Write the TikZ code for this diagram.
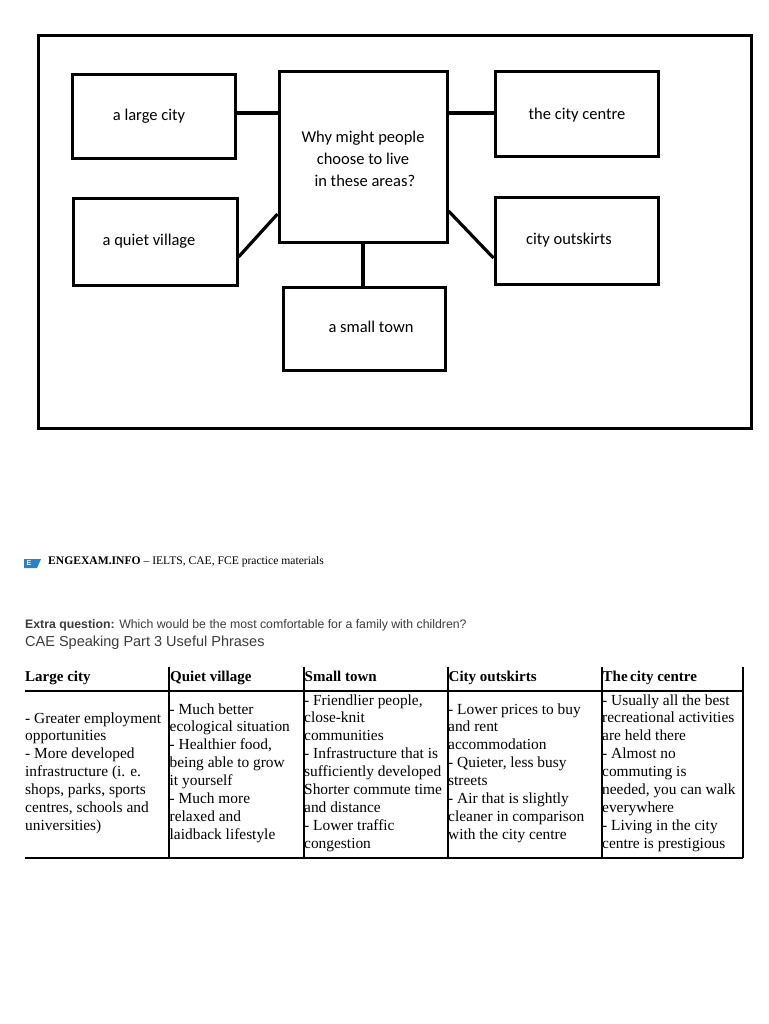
\documentclass[tikz,border=0pt]{standalone}
\usepackage{fontspec}
\setmainfont{Liberation Serif}
\newfontfamily\diag{Carlito}
\newfontfamily\arial{Liberation Sans}
\definecolor{iconblue}{RGB}{40,130,200}
\definecolor{subgray}{RGB}{60,60,60}
\begin{document}
\begin{tikzpicture}[x=1pt,y=-1pt,
  frame/.style={draw=black,line width=3pt},
  box/.style={draw=black,line width=3pt,inner sep=0pt},
  link/.style={draw=black,line width=3.2pt},
  btxt/.style={font=\diag\fontsize{16.5}{22}\selectfont,inner sep=0pt},
  grid/.style={draw=black,line width=1.1pt},
  head/.style={font=\bfseries\fontsize{15}{18}\selectfont,anchor=base west,inner sep=0pt},
  cell/.style={font=\fontsize{15.4}{17.9}\selectfont,anchor=west,align=left,inner sep=0pt},
]
\useasboundingbox (0,0) rectangle (768,1024);
\fill[white] (0,0) rectangle (768,1024);
% outer frame
\draw[frame] (38,36) rectangle (751,428);
% boxes
\node[box,minimum width=163pt,minimum height=84pt] (large) at (153.5,117) {};
\node[box,minimum width=168pt,minimum height=170pt] (centre) at (363,157) {};
\node[box,minimum width=163pt,minimum height=85pt] (citycentre) at (576.5,114.5) {};
\node[box,minimum width=164pt,minimum height=86pt] (village) at (155,242) {};
\node[box,minimum width=163pt,minimum height=86pt] (outskirts) at (576.5,241) {};
\node[box,minimum width=162pt,minimum height=83pt] (town) at (364,328.5) {};
% texts
\node[btxt] (tlarge) at (149,116) {a large city};
\node[btxt,align=center] (tcentre) at (363,159) {Why might people\\choose to live\\\ in these areas?};
\node[btxt] (tcc) at (577,115) {the city centre};
\node[btxt] (tvil) at (149,241) {a quiet village};
\node[btxt] (tout) at (569,240) {city outskirts};
\node[btxt] (ttown) at (371,327) {a small town};
% connectors
\draw[link] (large.east |- 0,113) -- (centre.west |- 0,113);
\draw[link] (centre.east |- 0,113) -- (citycentre.west |- 0,113);
\draw[link] (village.east |- 0,257) -- (centre.west |- 0,214);
\draw[link] (centre.east |- 0,211) -- (outskirts.west |- 0,258);
\draw[link] (centre.south) -- (centre.south |- town.north);
% footer line
\fill[iconblue] (24,559) -- (41,559) -- (37,568) -- (24,568) -- cycle;
\node[font=\arial\bfseries\fontsize{7}{7}\selectfont,text=white,inner sep=0pt] (iconE) at (29,563.5) {E};
\node[anchor=west,inner sep=0pt,font=\fontsize{11.6}{13}\selectfont] (eng) at (48,562) {\textbf{ENGEXAM.INFO} – IELTS, CAE, FCE practice materials};
\node[anchor=west,inner sep=0pt,font=\arial\fontsize{12.3}{14}\selectfont,text=subgray] (extra) at (25,625) {\textbf{Extra question:} Which would be the most comfortable for a family with children?};
\node[anchor=west,inner sep=0pt,font=\arial\fontsize{14.5}{16}\selectfont,text=subgray] (cae) at (25,643) {CAE Speaking Part 3 Useful Phrases};
% table
\draw[grid] (25,691) -- (743,691);
\draw[grid] (25,858) -- (743,858);
\foreach \xx in {169,304,448,602,743} \draw[grid] (\xx,667) -- (\xx,858);
\node[head] (h1) at (25,681) {Large city};
\node[head] (h2) at (170,681) {Quiet village};
\node[head] (h3) at (304.5,681) {Small town};
\node[head] (h4) at (448.5,681) {City outskirts};
\node[head] (h5) at (602.5,681) {The\,city centre};
\node[cell] (c1) at (25,773) {- Greater employment\\opportunities\\- More developed\\infrastructure (i. e.\\shops, parks, sports\\centres, schools and\\universities)};
\node[cell] (c2) at (169.5,773) {- Much better\\ecological situation\\- Healthier food,\\being able to grow\\it yourself\\- Much more\\relaxed and\\laidback lifestyle};
\node[cell] (c3) at (304,773) {- Friendlier people,\\close-knit\\communities\\- Infrastructure that is\\sufficiently developed\\Shorter commute time\\and distance\\- Lower traffic\\congestion};
\node[cell] (c4) at (448,773) {- Lower prices to buy\\and rent\\accommodation\\- Quieter, less busy\\streets\\- Air that is slightly\\cleaner in comparison\\with the city centre};
\node[cell] (c5) at (602,773) {- Usually all the best\\recreational activities\\are held there\\- Almost no\\commuting is\\needed, you can walk\\everywhere\\- Living in the city\\centre is prestigious};
\end{tikzpicture}
\end{document}
